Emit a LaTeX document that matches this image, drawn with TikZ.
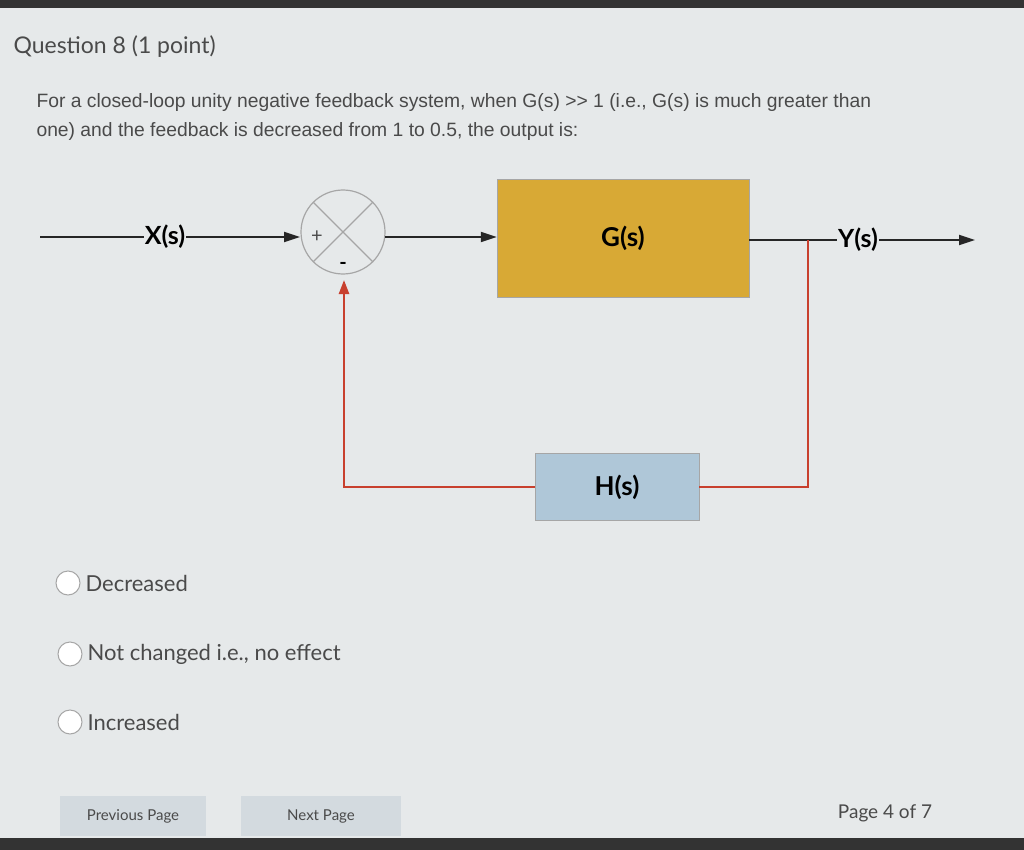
\documentclass[tikz,border=0pt]{standalone}
\usepackage{fontspec}
\setmainfont{Lato}
\newfontfamily\arial{Liberation Sans}
\usetikzlibrary{arrows.meta}
\definecolor{bg}{HTML}{E6E9EA}
\definecolor{gold}{HTML}{D8A935}
\definecolor{hblue}{HTML}{AFC7D8}
\definecolor{fbred}{HTML}{C8402E}
\definecolor{txt}{HTML}{4A4A4A}
\definecolor{btn}{HTML}{D3DADF}
\tikzset{
  sig/.style={line width=2pt,black!85,-{Triangle[length=16pt,width=10pt]}},
  fb/.style={line width=2.4pt,fbred},
  lbl/.style={font=\fontsize{25}{28}\selectfont\bfseries,fill=bg,inner sep=1pt},
  radio/.style={circle,draw=gray!70,line width=1pt,fill=white,minimum size=24pt,inner sep=0pt},
  opt/.style={anchor=west,font=\fontsize{22}{26}\selectfont,text=txt},
  button/.style={fill=btn,minimum height=40pt,font=\fontsize{15}{18}\selectfont,text=txt}
}
\begin{document}
\begin{tikzpicture}[x=1pt,y=-1pt]
\useasboundingbox (0,0) rectangle (1024,850);
\fill[bg] (0,0) rectangle (1024,850);
\fill[black!80] (0,838) rectangle (1024,850);
\fill[black!80] (0,0) rectangle (1024,8);
\node[anchor=west,font=\fontsize{23}{27}\selectfont,text=txt] (q) at (10,47) {Question 8 (1 point)};
\node[anchor=west,font=\arial\fontsize{19.3}{22}\selectfont,text=txt] (p1) at (33,103) {For a closed-loop unity negative feedback system, when G(s) >> 1 (i.e., G(s) is much greater than};
\node[anchor=west,font=\arial\fontsize{19.3}{22}\selectfont,text=txt] (p2) at (33,132) {one) and the feedback is decreased from 1 to 0.5, the output is:};
% blocks
\node[circle,draw=gray!70,line width=1.2pt,minimum size=84pt,inner sep=0pt] (sum) at (343,232) {};
\draw[gray!70,line width=1.2pt] (sum.north west) -- (sum.south east) (sum.north east) -- (sum.south west);
\node[font=\fontsize{20}{22}\selectfont,text=txt] (plus) at (317,237) {+};
\node[font=\fontsize{20}{22}\selectfont\bfseries] (minus) at (343,266) {-};
\node[draw=gray!70,fill=gold,minimum width=252pt,minimum height=118pt,inner sep=0pt,font=\fontsize{26}{30}\selectfont\bfseries] (G) at (623,238) {G(s)};
\node[draw=gray!70,fill=hblue,minimum width=164pt,minimum height=67pt,inner sep=0pt,font=\fontsize{26}{30}\selectfont\bfseries] (H) at (617,487) {H(s)};
\coordinate (xin) at (40,237);
\coordinate (sumin) at (300,237);
\coordinate (sumout) at (385,237);
\coordinate (yout) at (975,240);
\coordinate (tap) at (808,240);
\coordinate (c1) at (808,487);
\coordinate (c2) at (344,487);
\coordinate (sumb) at (344,280);
\draw[sig] (xin) -- (sumin);
\node[lbl] (X) at (165,237) {X(s)};
\draw[sig] (sumout) -- (G.west |- sumout);
\draw[sig] (G.east |- yout) -- (yout);
\node[lbl] (Y) at (858,240) {Y(s)};
\draw[fb] (tap) -- (c1) -- (H.east |- c1);
\draw[fb,-{Triangle[length=14pt,width=10pt]}] (H.west |- c2) -- (c2) -- (sumb);
% options
\node[radio] (r1) at (68,583) {};
\node[opt] (o1) at (82,583) {Decreased};
\node[radio] (r2) at (70,654) {};
\node[opt] (o2) at (84,654) {Not changed i.e., no effect};
\node[radio] (r3) at (70,722) {};
\node[opt] (o3) at (84,722) {Increased};
\node[button,minimum width=146pt] (prev) at (133,816) {Previous Page};
\node[button,minimum width=160pt] (next) at (321,816) {Next Page};
\node[font=\fontsize{19}{22}\selectfont,text=txt] (page) at (885,813) {Page 4 of 7};
\end{tikzpicture}
\end{document}
